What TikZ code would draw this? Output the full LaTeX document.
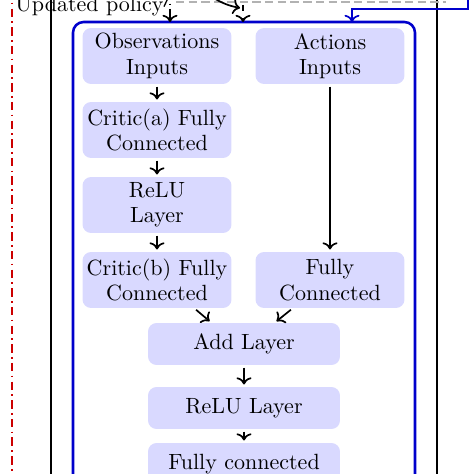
\documentclass[tikz,border=0pt]{standalone}
\usepackage{xcolor}
\usepackage{tikz}
\usetikzlibrary{shapes, arrows.meta, positioning}
\usetikzlibrary{calc}

\begin{document}
\begin{tikzpicture}
  [
    x=0.472pt, y=-0.472pt,
    every node/.style={font=\fontsize{10.4pt}{12pt}\selectfont},
    Block/.style={rectangle, fill=blue!15, rounded corners=4pt, align=center, minimum width=70.3pt, minimum height=26.4pt, inner sep=1pt},
    Wide/.style={rectangle, fill=blue!15, rounded corners=4pt, align=center, minimum width=90.6pt, minimum height=19.8pt, inner sep=1pt},
    Flow/.style={->, thick, shorten <=1pt, shorten >=1pt}
  ]
  \clip (0, 0) rectangle (474, 474);
  \useasboundingbox (0, 0) rectangle (474, 474);

  % Frames
  \draw[red!80!black, thick, dash pattern=on 4pt off 2pt on 0.8pt off 2pt] (12, -10) -- (12, 490);
  \draw[line width=1.3pt] (51, -30) rectangle (437, 520);
  \draw[blue!80!black, line width=1.2pt, rounded corners=5pt] (73, 22) rectangle (415, 520);

  % Nodes
  \node[Block] (obs) at(157, 56) {Observations\\Inputs};
  \node[Block] (act) at(330, 56) {Actions\\Inputs};
  \node[Block] (crita) at(157, 130) {Critic(a) Fully\\Connected};
  \node[Block] (relua) at(157, 205) {ReLU\\Layer};
  \node[Block] (critb) at(157, 280) {Critic(b) Fully\\Connected};
  \node[Block] (fca) at(330, 280) {Fully\\Connected};
  \node[Wide] (add) at(244, 344) {Add Layer};
  \node[Wide] (relub) at(244, 408) {ReLU Layer};
  \node[Wide] (fcb) at(244, 464) {Fully connected};

  % Connections
  \draw[Flow] (obs) -- (crita);
  \draw[Flow] (crita) -- (relua);
  \draw[Flow] (relua) -- (critb);
  \draw[Flow] (act) -- (fca);
  \draw[Flow] ($(critb.south)!0.5!(critb.south east)$) -- ($(add.north west)!0.33!(add.north east)$);
  \draw[Flow] ($(fca.south)!0.5!(fca.south west)$) -- ($(add.north west)!0.66!(add.north east)$);
  \draw[Flow] (add) -- (relub);
  \draw[Flow] (relub) -- (fcb);

  % Top
  \node[anchor=base west, inner sep=0pt] (policy) at(15, 12) {Updated policy};
  \coordinate (pout) at(168, -2);
  \draw[semithick] (policy.east) -- (pout);
  \draw[gray!60, line width=1pt, dash pattern=on 4pt off 2pt] (176, 2) -- (446, 2);
  \coordinate (obstop) at(170, 22);
  \coordinate (obsin) at(170, 9);
  \draw[semithick, dotted] (170, -2) -- (obsin);
  \draw[thick, ->] (obsin) -- (obstop);
  \coordinate (midtop) at(243, 22);
  \draw[thick, dashed, ->] (243, 5) -- (midtop);
  \coordinate (curvein) at(240, 8);
  \draw[thick, ->] (212, -3) to[bend right=10] (curvein);
  \coordinate (acttop) at(352, 22);
  \draw[blue!80!black, thick, ->] (468, -5) -- (468, 9) -- (352, 9) -- (acttop);
\end{tikzpicture}
\end{document}
